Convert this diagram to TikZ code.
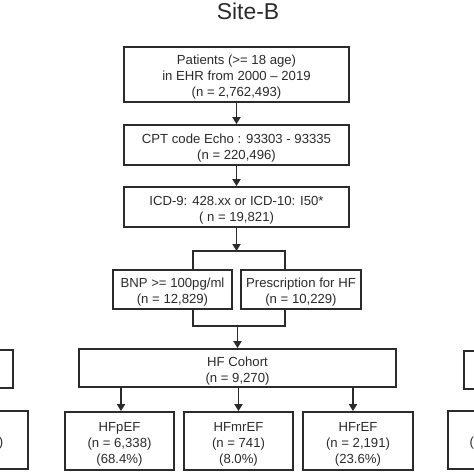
\documentclass[tikz,border=0pt]{standalone}
\usepackage{fontspec}
\setmainfont{Liberation Sans}
\usetikzlibrary{arrows.meta}
\definecolor{ink}{HTML}{2B2B2B}
\tikzset{
  box/.style={draw=ink, line width=1.8bp, inner sep=0pt},
  txt/.style={inner sep=0pt, align=center, text=ink, font=\fontsize{13.2}{16}\selectfont},
  arr/.style={draw=ink, line width=1.8bp, -{Triangle[width=8bp,length=7bp]}},
  ln/.style={draw=ink, line width=1.8bp}
}
\begin{document}
\begin{tikzpicture}[x=1bp,y=-1bp]
\clip (0,0) rectangle (474,474);
\fill[white] (0,0) rectangle (474,474);
\node[text=ink, inner sep=0pt, font=\fontsize{23}{28}\selectfont] (title) at (248,11) {Site-B};
\node[box, minimum width=225bp, minimum height=55bp] (pat) at (236.5,74.5) {};
\node[box, minimum width=225bp, minimum height=40bp] (cpt) at (236.5,145) {};
\node[box, minimum width=225bp, minimum height=40bp] (icd) at (236.5,207) {};
\node[box, minimum width=119bp, minimum height=39bp] (bnp) at (172.5,289.5) {};
\node[box, minimum width=120bp, minimum height=39bp] (rx) at (301,289.5) {};
\node[box, minimum width=317bp, minimum height=38bp] (hf) at (237.5,368) {};
\node[box, minimum width=109bp, minimum height=58bp] (hfp) at (119.5,441) {};
\node[box, minimum width=109bp, minimum height=58bp] (hfm) at (238.5,441) {};
\node[box, minimum width=110bp, minimum height=58bp] (hfr) at (358,441) {};
\node[txt] (patt) at ([yshift=-3bp]pat.center) {Patients (>= 18 age)\\in EHR from 2000 – 2019\\(n = 2,762,493)};
\node[txt] (cptt) at ([yshift=-3bp]cpt.center) {CPT code Echo : 93303 - 93335\\(n = 220,496)};
\node[txt] (icdt) at ([yshift=-3bp]icd.center) {ICD-9: 428.xx or ICD-10: I50*\\( n = 19,821)};
\node[txt] (bnpt) at ([yshift=-3bp]bnp.center) {BNP >= 100pg/ml\\(n = 12,829)};
\node[txt] (rxt) at ([yshift=-3bp]rx.center) {Prescription for HF\\(n = 10,229)};
\node[txt] (hft) at ([yshift=-3bp]hf.center) {HF Cohort\\(n = 9,270)};
\node[txt] (hfpt) at ([yshift=-3bp]hfp.center) {HFpEF\\(n = 6,338)\\(68.4\%)};
\node[txt] (hfmt) at ([yshift=-3bp]hfm.center) {HFmrEF\\(n = 741)\\(8.0\%)};
\node[txt] (hfrt) at ([yshift=-3bp]hfr.center) {HFrEF\\(n = 2,191)\\(23.6\%)};
% partial boxes from neighbouring panels
\node[box, minimum width=80bp, minimum height=38bp] (l1) at (-27,369) {};
\node[box, minimum width=100bp, minimum height=58bp] (l2) at (-22,440) {};
\node[box, minimum width=80bp, minimum height=38bp] (r1) at (504,370) {};
\node[box, minimum width=100bp, minimum height=58bp] (r2) at (498,440) {};
\node[txt, anchor=east] (l2t) at (3.5,443) {)};
\node[txt, anchor=west] (r2t) at (469.5,443) {(};
% connectors
\draw[arr] (pat) -- (cpt);
\draw[arr] (cpt) -- (icd);
\coordinate (tl) at (193,251);
\coordinate (tr) at (285,251);
\coordinate (bl) at (193,326);
\coordinate (br) at (285,326);
\draw[arr] (icd.south) -- (icd.south |- tl);
\draw[ln] (bnp.north -| tl) -- (tl) -- (tr) -- (rx.north -| tr);
\draw[ln] (bnp.south -| bl) -- (bl) -- (br) -- (rx.south -| br);
\draw[arr] (bl -| hf.north) -- (hf.north);
\draw[arr] (hf.south -| 121,0) -- (hfp.north -| 121,0);
\draw[arr] (hf.south -| hfm.north) -- (hfm.north);
\draw[arr] (hf.south -| 353,0) -- (hfr.north -| 353,0);
\end{tikzpicture}
\end{document}
